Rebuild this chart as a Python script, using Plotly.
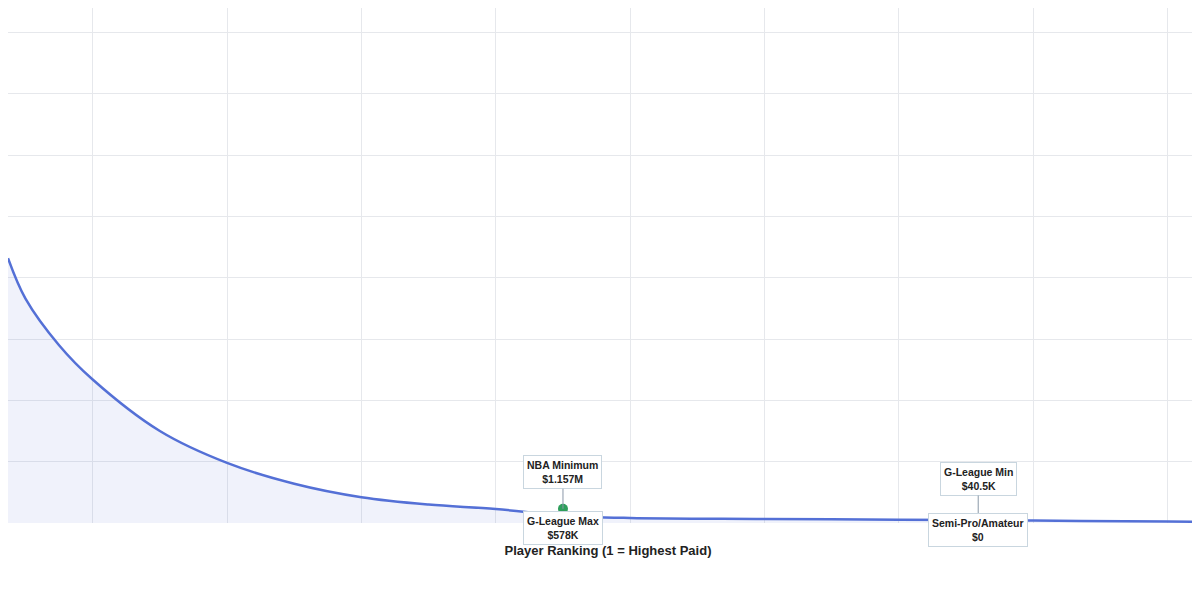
import plotly.graph_objects as go

# salary curve (rank vs salary, USD)
ranks = [37, 50, 75, 100, 150, 200, 250, 300, 350, 400, 450, 500, 600, 700, 800, 900, 930]
salaries = [21.6e6, 18.3e6, 14.5e6, 11.7e6, 7.5e6, 4.9e6, 3.2e6, 2.1e6, 1.5e6, 1.14e6, 0.6e6,
            0.41e6, 0.33e6, 0.27e6, 0.2e6, 0.12e6, 0.09e6]

# labelled points: (rank, salary, text, offset)
labels_rank = [450, 450, 759, 759]
labels_val = [1.157e6, 0.578e6, 0.0405e6, 0.0]
labels_text = ['NBA Minimum<br>$1.157M', 'G-League Max<br>$578K', 'G-League Min<br>$40.5K', 'Semi-Pro/Amateur<br>$0']
labels_ay = [-20, 12, -27, 7]
labels_anchor = ['bottom', 'middle', 'bottom', 'middle']

fig = go.Figure()
fig.add_trace(go.Scatter(x=ranks, y=salaries, mode='lines', line=dict(color='#5470d6', width=2.5, shape='spline'),
                         fill='tozeroy', fillcolor='rgba(84,112,214,0.09)', hoverinfo='skip'))
fig.add_trace(go.Scatter(x=[450], y=[1.157e6], mode='markers', marker=dict(color='#2e9e5b', size=10)))

for r, v, t, ay, anc in zip(labels_rank, labels_val, labels_text, labels_ay, labels_anchor):
    fig.add_annotation(x=r, y=v, text='<b>' + t + '</b>', showarrow=True, arrowhead=0, arrowcolor='#8a98a8',
                       arrowwidth=1, ax=0, ay=ay, yanchor=anc,
                       bgcolor='white', bordercolor='#c9d6df', borderwidth=1, borderpad=3,
                       font=dict(size=10.5, color='#222', family='Liberation Sans'))

fig.update_layout(
    width=1200, height=600, margin=dict(l=0, r=0, t=0, b=85),
    plot_bgcolor='white', paper_bgcolor='white', showlegend=False,
    font=dict(family='Liberation Sans'),
    xaxis=dict(range=[37, 930], dtick=100, tick0=0, showticklabels=False, showgrid=True, gridcolor='#e6e8ec',
               zeroline=False, title=dict(text='<b>Player Ranking (1 = Highest Paid)</b>', font=dict(size=13, color='#222'),
                                          standoff=22)),
    yaxis=dict(range=[0, 42.0e6], dtick=5e6, showticklabels=False, showgrid=True, gridcolor='#e6e8ec', zeroline=False),
)
fig.write_html('out.html')
